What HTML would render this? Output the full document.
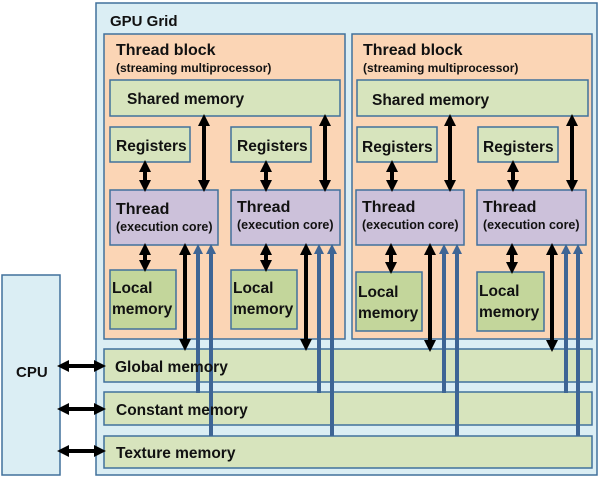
<!DOCTYPE html>
<html><head><style>body{margin:0;background:#fff}svg{display:block}text{font-family:"Liberation Sans",sans-serif;font-weight:bold;fill:#111}</style></head><body>
<svg width="600" height="478" viewBox="0 0 600 478" xmlns="http://www.w3.org/2000/svg">
<defs>
<marker id="a" viewBox="0 0 10 10" refX="5" refY="5" markerWidth="3" markerHeight="3" orient="auto-start-reverse"><path d="M0,0L10,5L0,10z" fill="#000"/></marker>
<marker id="b" viewBox="0 0 10 10" refX="5" refY="5" markerWidth="2.5" markerHeight="2.5" orient="auto"><path d="M0,0L10,5L0,10z" fill="#3e6595"/></marker>
</defs>
<g stroke="#41719c" stroke-width="1.5">
<rect x="2" y="275" width="58" height="200" fill="#dbeef4"/>
<rect x="96" y="3" width="501" height="472" fill="#dbeef4"/>
<rect x="104" y="34" width="241" height="305" fill="#fbd5b5"/>
<rect x="352" y="34" width="240" height="305" fill="#fbd5b5"/>
<g fill="#d7e4bd">
<rect x="110" y="80" width="230" height="36"/><rect x="357" y="80" width="231" height="36"/>
<rect x="110" y="127" width="80" height="35"/><rect x="231" y="127" width="80" height="35"/>
<rect x="357" y="127" width="80" height="35"/><rect x="478" y="127" width="80" height="35"/>
<rect x="104" y="349" width="488" height="33"/><rect x="104" y="392" width="488" height="33"/><rect x="104" y="436" width="488" height="32"/>
</g>
<g fill="#c3d69b">
<rect x="110" y="270" width="66" height="59"/><rect x="231" y="270" width="66" height="59"/>
<rect x="356" y="272" width="66" height="59"/><rect x="477" y="272" width="67" height="59"/>
</g>
<g fill="#ccc1da">
<rect x="110" y="190" width="108" height="55"/><rect x="231" y="190" width="109" height="55"/>
<rect x="356" y="190" width="108" height="55"/><rect x="477" y="190" width="109" height="55"/>
</g>
</g>
<g stroke="#000" stroke-width="4" marker-start="url(#a)" marker-end="url(#a)">
<line x1="63" y1="366" x2="100" y2="366"/><line x1="63" y1="409" x2="100" y2="409"/><line x1="63" y1="451" x2="100" y2="451"/>
<line x1="145" y1="166" x2="145" y2="186"/><line x1="266" y1="166" x2="266" y2="186"/>
<line x1="392" y1="166" x2="392" y2="186"/><line x1="513" y1="166" x2="513" y2="186"/>
<line x1="204" y1="120" x2="204" y2="186"/><line x1="325" y1="120" x2="325" y2="186"/>
<line x1="450" y1="120" x2="450" y2="186"/><line x1="572" y1="120" x2="572" y2="186"/>
<line x1="145" y1="249" x2="145" y2="266"/><line x1="266" y1="249" x2="266" y2="266"/>
<line x1="391" y1="249" x2="391" y2="268"/><line x1="512" y1="249" x2="512" y2="268"/>
<line x1="185" y1="249" x2="185" y2="345"/><line x1="306" y1="249" x2="306" y2="345"/>
<line x1="430" y1="249" x2="430" y2="346"/><line x1="552" y1="249" x2="552" y2="346"/>
</g>
<g stroke="#3e6595" stroke-width="4" marker-end="url(#b)">
<line x1="198" y1="393" x2="198" y2="249"/><line x1="211" y1="436" x2="211" y2="249"/>
<line x1="319" y1="393" x2="319" y2="249"/><line x1="332" y1="436" x2="332" y2="249"/>
<line x1="444" y1="393" x2="444" y2="249"/><line x1="457" y1="436" x2="457" y2="249"/>
<line x1="566" y1="393" x2="566" y2="249"/><line x1="578" y1="436" x2="578" y2="249"/>
</g>
<text x="110" y="26" font-size="15">GPU Grid</text>
<text x="116" y="55" font-size="16">Thread block</text>
<text x="116" y="72" font-size="12">(streaming multiprocessor)</text>
<text x="363" y="55" font-size="16">Thread block</text>
<text x="363" y="72" font-size="12">(streaming multiprocessor)</text>
<text x="127" y="104" font-size="15.5">Shared memory</text>
<text x="372" y="105" font-size="15.5">Shared memory</text>
<g font-size="15.5"><text x="116" y="151">Registers</text><text x="237" y="151">Registers</text><text x="362" y="152">Registers</text><text x="483" y="152">Registers</text></g>
<g font-size="16"><text x="116" y="214">Thread</text><text x="237" y="212">Thread</text><text x="362" y="212">Thread</text><text x="483" y="212">Thread</text></g>
<g font-size="12.5"><text x="116" y="231">(execution core)</text><text x="237" y="229">(execution core)</text><text x="362" y="229">(execution core)</text><text x="483" y="229">(execution core)</text></g>
<g font-size="15.5"><text x="112" y="293">Local</text><text x="112" y="314">memory</text><text x="233" y="293">Local</text><text x="233" y="314">memory</text>
<text x="358" y="297">Local</text><text x="358" y="318">memory</text><text x="479" y="296">Local</text><text x="479" y="317">memory</text></g>
<text x="16" y="377" font-size="15">CPU</text>
<text x="115" y="372" font-size="15.5">Global memory</text>
<text x="116" y="415" font-size="15.5">Constant memory</text>
<text x="116" y="458" font-size="15.5">Texture memory</text>
</svg>
</body></html>
